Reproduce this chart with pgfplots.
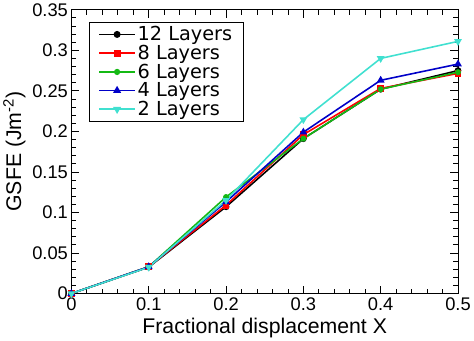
\documentclass[border=0pt]{standalone}
\usepackage{fontspec}
\setmainfont{Liberation Sans}
\newfontfamily\legfont{DejaVu Sans}
\usepackage{pgfplots}
\pgfplotsset{compat=1.18}
\definecolor{cgreen}{RGB}{20,185,20}
\definecolor{cblue}{RGB}{0,0,200}
\definecolor{ccyan}{RGB}{64,224,208}
\newcommand{\lf}{\legfont\fontsize{19.5}{21}\selectfont}
\begin{document}
\begin{tikzpicture}
\begin{axis}[
  at={(0pt,0pt)}, anchor=south west,
  scale only axis,
  width=391pt, height=287pt,
  xmin=0, xmax=0.5, ymin=0, ymax=0.35,
  xtick={0,0.1,...,0.5},
  ytick={0,0.05,...,0.35},
  minor x tick num=4, minor y tick num=4,
  tick align=inside,
  major tick length=8pt, minor tick length=5pt,
  tick style={black, line width=0.8pt},
  axis line style={line width=1pt},
  xticklabel style={font=\fontsize{18.5}{20}\selectfont, yshift=-1pt},
  yticklabel style={font=\fontsize{18.5}{20}\selectfont},
  /pgf/number format/assume math mode=true,
  xticklabels={0,0.1,0.2,0.3,0.4,0.5},
  yticklabels={0,0.05,0.1,0.15,0.2,0.25,0.3,0.35},
  xlabel={Fractional displacement X},
  ylabel={GSFE (Jm\textsuperscript{-2})},
  label style={font=\fontsize{21.5}{24}\selectfont},
  legend style={at={(0.046,0.958)}, anchor=north west, draw=black, line width=0.8pt,
    row sep=-1pt, inner xsep=9pt, inner ysep=2.5pt},
  legend cell align=left,
  legend image post style={line width=1.8pt},
  legend image code/.code={\draw[mark repeat=2,mark phase=2] plot coordinates {(0cm,0cm) (0.63cm,0cm) (1.26cm,0cm)};},
  every axis plot/.append style={line width=1.6pt},
]
\addplot[black, mark=*, mark size=2.6pt] coordinates {(0,0) (0.1,0.0326) (0.2,0.107) (0.3,0.191) (0.4,0.252) (0.5,0.275)};
\addlegendentry{\lf 12 Layers}
\addplot[red, mark=square*, mark size=2.6pt] coordinates {(0,0) (0.1,0.033) (0.2,0.109) (0.3,0.196) (0.4,0.253) (0.5,0.2715)};
\addlegendentry{\lf 8 Layers}
\addplot[cgreen, mark=*, mark size=2.2pt] coordinates {(0,0) (0.1,0.033) (0.2,0.119) (0.3,0.191) (0.4,0.252) (0.5,0.273)};
\addlegendentry{\lf 6 Layers}
\addplot[cblue, mark=triangle*, mark size=3pt] coordinates {(0,0) (0.1,0.033) (0.2,0.113) (0.3,0.199) (0.4,0.263) (0.5,0.283)};
\addlegendentry{\lf 4 Layers}
\addplot[ccyan, mark=triangle*, mark options={rotate=180}, mark size=3pt] coordinates {(0,0) (0.1,0.0325) (0.2,0.115) (0.3,0.2145) (0.4,0.290) (0.5,0.311)};
\addlegendentry{\lf 2 Layers}
\end{axis}
\end{tikzpicture}
\end{document}
